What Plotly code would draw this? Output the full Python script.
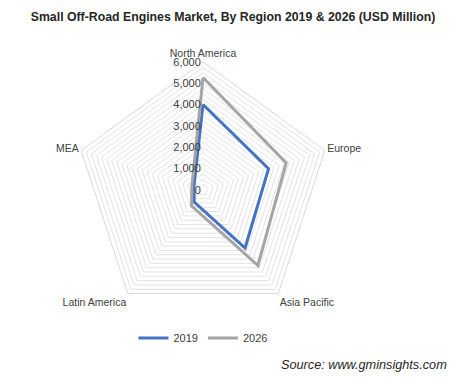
import plotly.graph_objects as go

regions = ["North America", "Europe", "Asia Pacific", "Latin America", "MEA"]
values_2019 = [4010, 3230, 3360, 700, 450]
values_2026 = [5270, 4100, 4380, 915, 550]
tick_vals = list(range(0, 6001, 250))
tick_text = [f"{v:,}" if v % 1000 == 0 else "" for v in tick_vals]

fig = go.Figure()
for name, vals, color in [("2019", values_2019, "#4472C4"), ("2026", values_2026, "#A5A5A5")]:
    fig.add_trace(go.Scatterpolar(
        r=vals + vals[:1], theta=regions + regions[:1], name=name, mode="lines",
        line=dict(color=color, width=3),
    ))

W, H = 466, 380
cx, cy, R = 203, 190, 128
fig.update_layout(
    width=W, height=H, margin=dict(l=0, r=0, t=0, b=0),
    paper_bgcolor="white", plot_bgcolor="white",
    font=dict(family="Liberation Sans, Arial, sans-serif", size=11, color="#404040"),
    title=dict(text="<b>Small Off-Road Engines Market, By Region 2019 &amp; 2026 (USD Million)</b>",
               x=233 / W, xanchor="center", y=1 - 17 / H, yanchor="middle",
               font=dict(size=12.3, color="#262626")),
    polar=dict(
        domain=dict(x=[(cx - R) / W, (cx + R) / W], y=[1 - (cy + R) / H, 1 - (cy - R) / H]),
        gridshape="linear",
        bgcolor="white",
        angularaxis=dict(rotation=90, direction="clockwise", showgrid=False,
                         showline=True, linecolor="#d9d9d9", linewidth=1,
                         ticks="", tickfont=dict(size=10.5, color="#404040")),
        radialaxis=dict(range=[0, 6000], tickvals=tick_vals, ticktext=tick_text,
                        angle=90, tickangle=90, side="counterclockwise",
                        showline=False, ticks="", gridcolor="#e3e3e3", gridwidth=1,
                        tickfont=dict(size=11, color="#404040")),
    ),
    legend=dict(orientation="h", x=203 / W, xanchor="center", y=1 - 338 / H, yanchor="middle",
                font=dict(size=11, color="#404040")),
    annotations=[dict(text="<i>Source: www.gminsights.com</i>", x=449 / W, xanchor="right",
                      y=1 - 365 / H, yanchor="middle", xref="paper", yref="paper",
                      showarrow=False, font=dict(size=12.7, color="#262626"))],
)
fig.write_html("out.html", config={"displayModeBar": False},
               post_script="document.body.style.margin='0';")
